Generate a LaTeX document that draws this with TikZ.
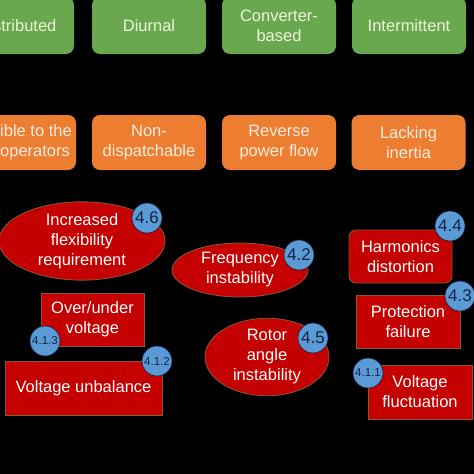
\documentclass[tikz,border=0pt]{standalone}
\usepackage{fontspec}
\setmainfont{Liberation Sans}
\usetikzlibrary{shapes.geometric}
\definecolor{gbox}{RGB}{106,168,79}
\definecolor{gtext}{RGB}{234,246,214}
\definecolor{obox}{RGB}{237,125,49}
\definecolor{otext}{RGB}{253,236,222}
\definecolor{rbox}{RGB}{196,0,0}
\definecolor{rline}{RGB}{140,90,50}
\definecolor{bbadge}{RGB}{91,155,213}
\definecolor{btext}{RGB}{20,35,70}
\tikzset{
  every node/.style={inner sep=0pt, align=center, font=\fontsize{16.5}{20}\selectfont},
  greenbox/.style={fill=gbox, text=gtext, rounded corners=8pt, minimum width=114pt, minimum height=57pt},
  orangebox/.style={fill=obox, text=otext, rounded corners=8pt, minimum width=114pt, minimum height=55pt},
  redrect/.style={rectangle, fill=rbox, draw=rline, line width=0.8pt, text=white},
  redell/.style={ellipse, fill=rbox, draw=rline, line width=0.8pt, text=white},
  badge/.style={circle, fill=bbadge, draw=btext, line width=0.6pt, text=btext, minimum size=30pt, font=\fontsize{17}{17}\selectfont},
  smallbadge/.style={badge, font=\fontsize{11.5}{12}\selectfont}
}
\begin{document}
\begin{tikzpicture}[x=1pt,y=-1pt]
\useasboundingbox (0,0) rectangle (474,474);
\clip (0,0) rectangle (474,474);
\fill[black] (0,0) rectangle (474,474);
% top row
\node[greenbox] (g1) at (17,25.5) {Distributed};
\node[greenbox] (g2) at (149,25.5) {Diurnal};
\node[greenbox] (g3) at (279,25.5) {Converter-\\based};
\node[greenbox] (g4) at (409,25.5) {Intermittent};
% second row
\node[orangebox] (o1) at (19,142.5) {Invisible to the\\grid operators};
\node[orangebox] (o2) at (149,142.5) {Non-\\dispatchable};
\node[orangebox] (o3) at (279,142.5) {Reverse\\power flow};
\node[orangebox] (o4) at (408.5,142.5) {Lacking\\inertia};
% impacts
\node[redell, minimum width=166pt, minimum height=74pt] (flex) at (82,241) {Increased\\flexibility\\requirement};
\node[redell, minimum width=136pt, minimum height=54pt] (freq) at (240,270) {Frequency\\instability};
\node[redell, minimum width=124pt, minimum height=72pt] (rotor) at (267,357) {Rotor\\angle\\instability};
\node[redrect, minimum width=103pt, minimum height=53pt] (over) at (92.5,319.5) {Over/under\\voltage};
\node[redrect, minimum width=157pt, minimum height=54pt] (unbal) at (83.5,388) {Voltage unbalance};
\node[redrect, rounded corners=7pt, minimum width=103pt, minimum height=53pt] (harm) at (400.5,256.5) {Harmonics\\distortion};
\node[redrect, minimum width=104pt, minimum height=53pt] (prot) at (408,321.5) {Protection\\failure};
\node[redrect, minimum width=104pt, minimum height=54pt] (fluct) at (420,392) {Voltage\\fluctuation};
% badges
\node[badge] (b46) at (147,218) {4.6};
\node[badge] (b42) at (299,255) {4.2};
\node[smallbadge] (b413) at (45,341) {4.1.3};
\node[smallbadge] (b412) at (157,361) {4.1.2};
\node[badge] (b45) at (313,338) {4.5};
\node[badge] (b44) at (450,226) {4.4};
\node[badge] (b43) at (460,296) {4.3};
\node[smallbadge] (b411) at (368,373) {4.1.1};
\end{tikzpicture}
\end{document}
